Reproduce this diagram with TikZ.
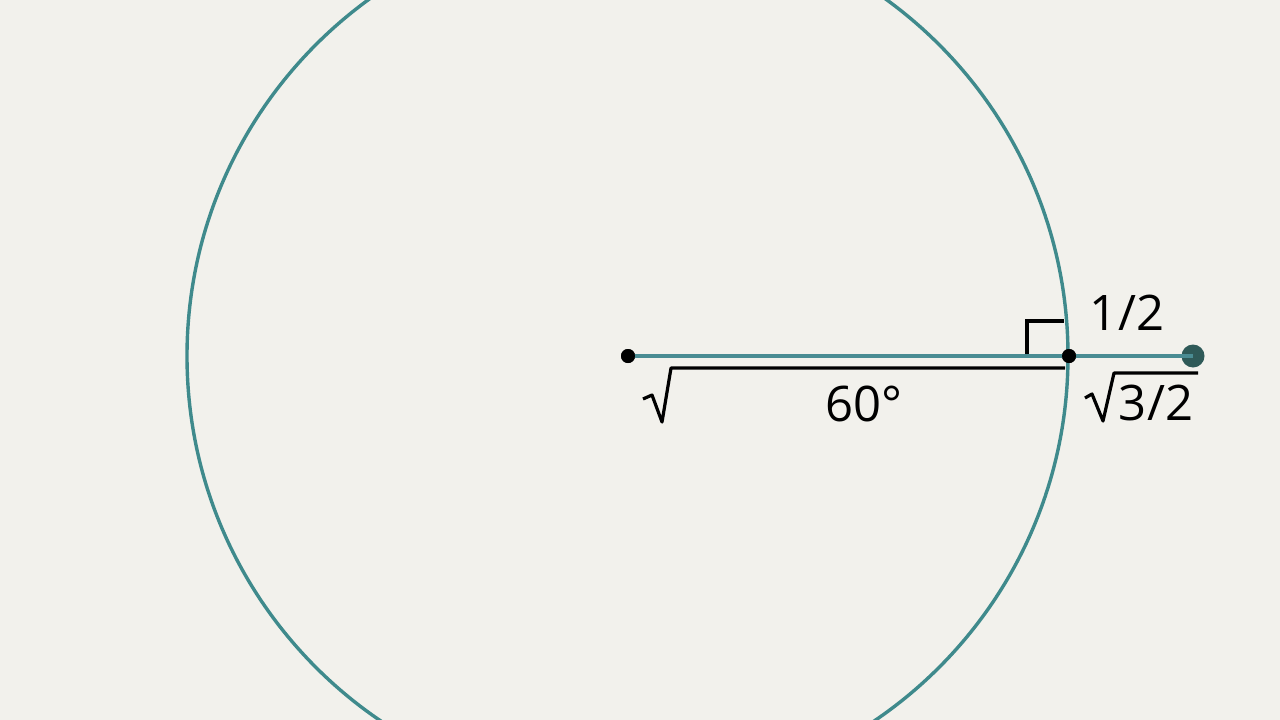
\documentclass[tikz,border=0pt]{standalone}
\usepackage{fontspec}
\setmainfont{Open Sans}
\begin{document}
\begin{tikzpicture}[x=1pt,y=-1pt,
  circ/.style={draw=circlecol,line width=3.4pt},
  tealline/.style={draw=linecol,line width=4.6pt},
  blackline/.style={draw=black,line width=3.2pt,line join=miter},
  dotsmall/.style={circle,fill=black,inner sep=0pt,minimum size=14pt},
  dotbig/.style={circle,fill=bigdot,inner sep=0pt,minimum size=23pt},
  lab/.style={font=\fontsize{49}{49}\selectfont,inner sep=0pt}]
\definecolor{bg}{HTML}{F2F1EC}
\definecolor{circlecol}{HTML}{3F8A8C}
\definecolor{linecol}{HTML}{4A8C93}
\definecolor{bigdot}{HTML}{2F5A58}
\useasboundingbox (0,0) rectangle (1280,720);
\fill[bg] (0,0) rectangle (1280,720);
\clip (0,0) rectangle (1280,720);
% circle
\coordinate (O) at (627.5,356);
\draw[circ] (O) circle[radius=440.5];
% horizontal teal segment
\node[dotsmall] (A) at (628,356) {};
\node[dotsmall] (B) at (1069,356) {};
\node[dotbig] (C) at (1193,356) {};
\draw[tealline] (A.center) -- (B.center);
\draw[tealline] (B.center) -- (C.center);
\node[dotsmall] at (A) {};
\node[dotsmall] at (B) {};
% right angle mark
\coordinate (R1) at (1027,354);
\coordinate (R2) at (1027,321);
\coordinate (R3) at (1064,321);
\draw[blackline] (R1) -- (R2) -- (R3);
% long radical
\coordinate (s1) at (643,399);
\coordinate (s2) at (652,395);
\coordinate (s3) at (662,422);
\coordinate (s4) at (671,368);
\coordinate (s5) at (1065,368);
\draw[blackline,line join=round] (s1) -- (s2) -- (s3) -- (s4) -- (s5);
% small radical
\coordinate (t1) at (1085,398);
\coordinate (t2) at (1092,394);
\coordinate (t3) at (1103,421);
\coordinate (t4) at (1114,373);
\coordinate (t5) at (1198,373);
\draw[blackline,line join=round] (t1) -- (t2) -- (t3) -- (t4) -- (t5);
% labels
\node[lab] (half) at (1127,313) {1/2};
\node[lab] (sixty) at (864,404) {60°};
\node[lab] (r32) at (1156,403) {3/2};
\end{tikzpicture}
\end{document}
